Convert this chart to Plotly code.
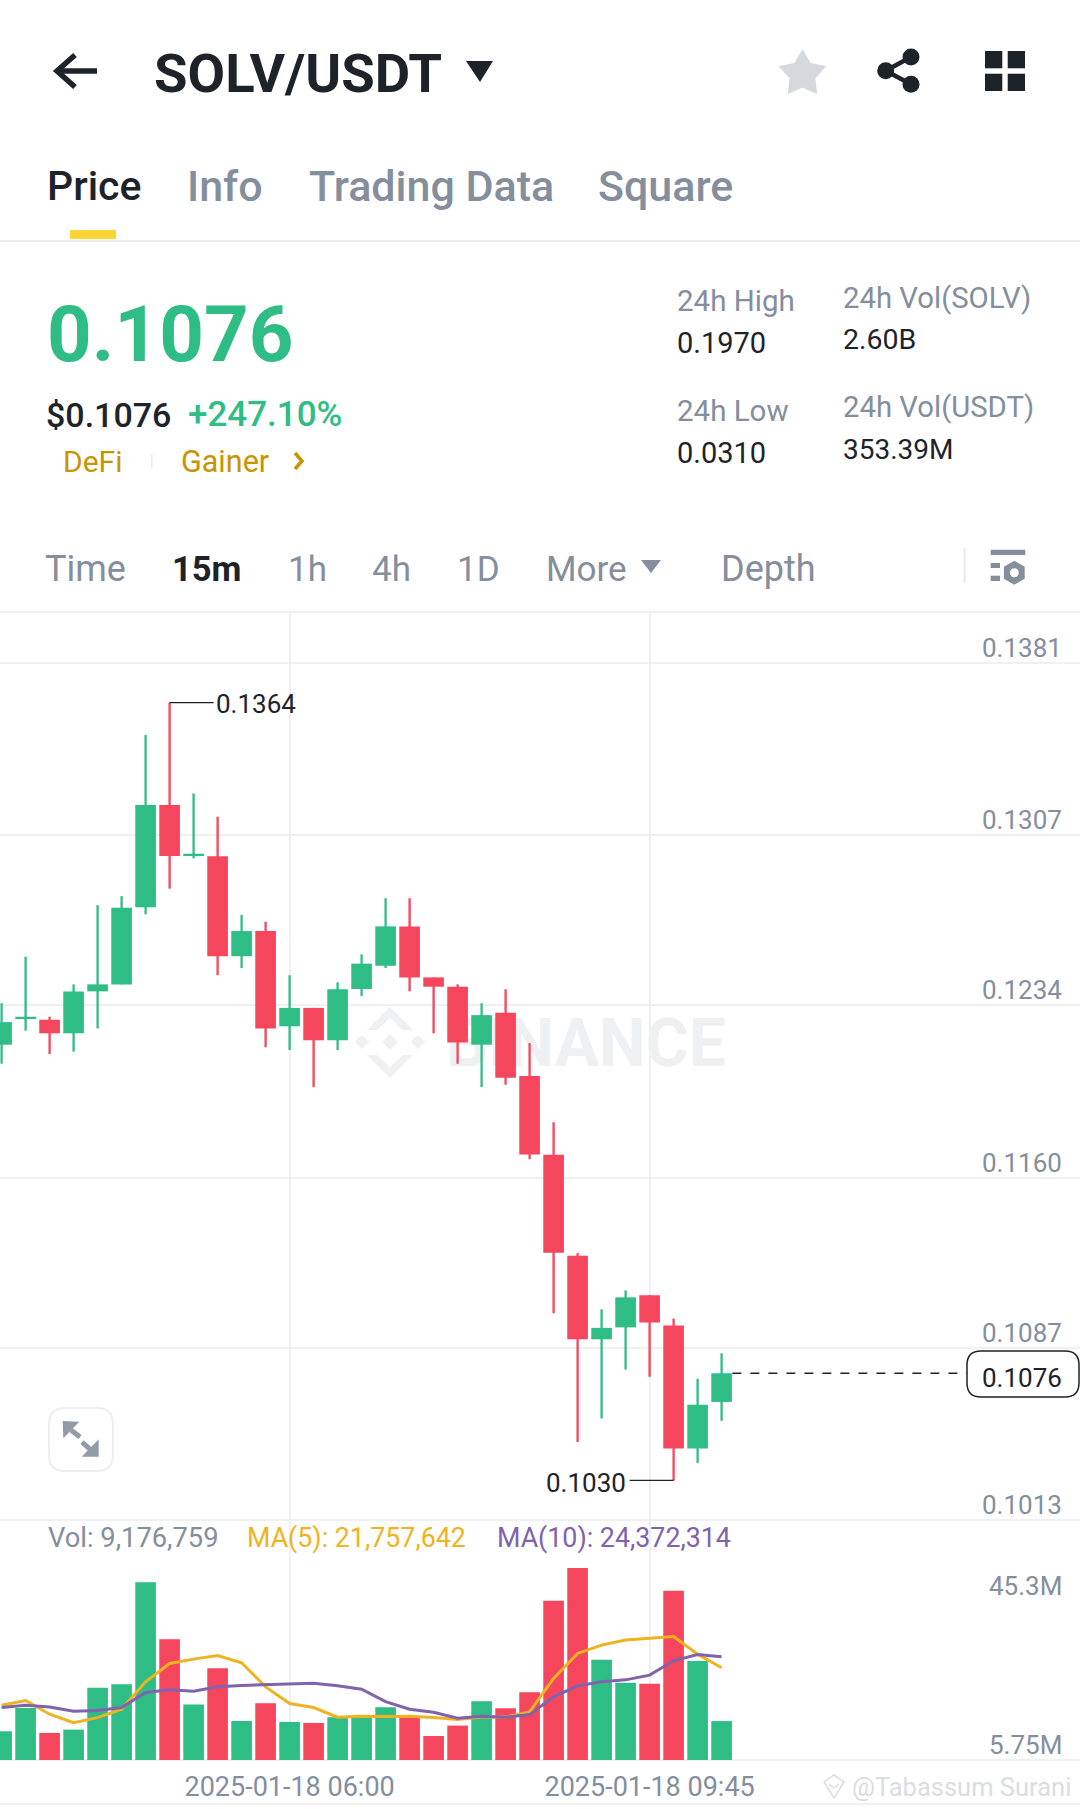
#!/usr/bin/env python3
import math

import pandas as pd
import plotly.graph_objects as go

W, H = 1080, 1809
GREEN, RED = "#2EBD85", "#F6465D"
DARK, GREY = "#1E2329", "#848E9C"
GOLD = "#C99400"
GRID = "#EEF0F2"
FONT = "Roboto"

# Candles, 15m interval, first one partly off the left edge
candle_start = "2025-01-18 03:00"
opens = [0.12171, 0.12281, 0.12278, 0.12220, 0.12400, 0.12430, 0.12761, 0.13200, 0.12981, 0.12980, 0.12551,
         0.12659, 0.12250, 0.12329, 0.12190, 0.12410, 0.12510, 0.12679, 0.12460, 0.12420, 0.12171, 0.12308,
         0.12037, 0.11698, 0.11265, 0.10906, 0.10957, 0.11095, 0.10965, 0.10437, 0.10637]
highs = [0.12349, 0.12549, 0.12291, 0.12430, 0.12770, 0.12809, 0.13501, 0.13640, 0.13250, 0.13150, 0.12729,
         0.12699, 0.12469, 0.12329, 0.12439, 0.12559, 0.12800, 0.12800, 0.12460, 0.12430, 0.12349, 0.12409,
         0.12178, 0.11838, 0.11276, 0.11035, 0.11116, 0.11095, 0.10995, 0.10736, 0.10846]
lows = [0.12089, 0.12231, 0.12131, 0.12141, 0.12241, 0.12430, 0.12731, 0.12841, 0.12971, 0.12470, 0.12500,
        0.12160, 0.12148, 0.11989, 0.12148, 0.12380, 0.12500, 0.12400, 0.12220, 0.12089, 0.11989, 0.11999,
        0.11679, 0.11018, 0.10465, 0.10566, 0.10776, 0.10745, 0.10300, 0.10375, 0.10556]
closes = [0.12268, 0.12291, 0.12220, 0.12399, 0.12430, 0.12759, 0.13200, 0.12981, 0.12991, 0.12551, 0.12659,
          0.12241, 0.12329, 0.12190, 0.12409, 0.12519, 0.12679, 0.12460, 0.12420, 0.12180, 0.12298, 0.12029,
          0.11700, 0.11278, 0.10906, 0.10955, 0.11086, 0.10978, 0.10437, 0.10625, 0.10760]

# Volume and moving averages, in millions
volumes = [6.77, 12.29, 6.38, 7.17, 17.01, 17.88, 41.9, 28.5, 13.08, 21.66, 9.2, 13.39, 8.98, 8.74, 10.08, 10.32,
           12.44, 10.16, 5.67, 8.11, 13.86, 12.21, 15.99, 37.57, 45.3, 23.63, 18.2, 17.96, 39.93, 23.32, 9.177]
ma5 = [12.92, 14.02, 10.79, 8.82, 10.0, 11.97, 18.43, 22.76, 23.79, 24.65, 22.92, 17.25, 13.31, 12.37, 10.08, 10.32,
       10.24, 10.32, 10.0, 9.53, 10.16, 10.16, 11.34, 19.22, 25.13, 27.1, 28.28, 28.67, 29.14, 24.97, 21.758]
ma10 = [12.37, 12.92, 12.52, 11.5, 11.66, 12.37, 15.91, 16.54, 16.23, 17.25, 17.57, 17.72, 17.96, 18.12, 17.49, 16.7,
        13.78, 11.97, 11.26, 9.85, 10.32, 10.08, 10.71, 14.89, 17.49, 18.43, 18.9, 20.01, 23.39, 24.89, 24.372]

price_ticks = [0.1381, 0.1307, 0.1234, 0.1160, 0.1087, 0.1013]
price_labels = ["0.1381", "0.1307", "0.1234", "0.1160", "0.1087", "0.1013"]
time_ticks = ["2025-01-18 06:00", "2025-01-18 09:45"]
header_tabs = [("Info", 185), ("Trading Data", 307), ("Square", 596)]
interval_tabs = [("Time", 43, 36, False), ("15m", 170, 34.5, True), ("1h", 286, 35, False), ("4h", 370, 35, False),
                 ("1D", 455, 35, False), ("More", 544, 35, False), ("Depth", 719, 36, False)]

times = pd.date_range(candle_start, periods=len(opens), freq="15min")
step = pd.Timedelta(minutes=15)
bar_colors = [GREEN if c >= o else RED for o, c in zip(opens, closes)]
body_low = [min(o, c) for o, c in zip(opens, closes)]
body_size = [abs(o - c) for o, c in zip(opens, closes)]
wick_size = [h - l for h, l in zip(highs, lows)]


def X(p):
    return p / W


def Y(p):
    return 1 - p / H


def x_at(px):
    # pixel position -> time on the chart axis, 06:00 sits at 289.6 and one candle is 24px
    return pd.Timestamp("2025-01-18 06:00") + (px - 289.6) / 24 * step


fig = go.Figure()
shapes = []
notes = []


def text(x, y, s, size, color, anchor="left", weight=400):
    notes.append(dict(x=X(x), y=Y(y), xref="paper", yref="paper", text=s, showarrow=False, xanchor=anchor,
                      yanchor="middle", font=dict(family=FONT, size=size, color=color, weight=weight)))


def rect(x0, y0, x1, y1, color, layer="above"):
    shapes.append(dict(type="rect", xref="paper", yref="paper", x0=X(x0), x1=X(x1), y0=Y(y0), y1=Y(y1),
                       fillcolor=color, line_width=0, layer=layer))


def poly(points, color=None, line=None, width=0, closed=True, layer="above"):
    d = "M" + " L".join(f"{X(a):.5f},{Y(b):.5f}" for a, b in points) + (" Z" if closed else "")
    shapes.append(dict(type="path", xref="paper", yref="paper", path=d, fillcolor=color if color else "rgba(0,0,0,0)",
                       line=dict(color=line if line else "rgba(0,0,0,0)", width=width), layer=layer))


def round_box(x0, y0, x1, y1, r, fill, line, width):
    def p(a, b):
        return f"{X(a):.5f},{Y(b):.5f}"
    d = (f"M{p(x0 + r, y0)} L{p(x1 - r, y0)} Q{p(x1, y0)} {p(x1, y0 + r)} L{p(x1, y1 - r)} Q{p(x1, y1)} {p(x1 - r, y1)} "
         f"L{p(x0 + r, y1)} Q{p(x0, y1)} {p(x0, y1 - r)} L{p(x0, y0 + r)} Q{p(x0, y0)} {p(x0 + r, y0)} Z")
    shapes.append(dict(type="path", xref="paper", yref="paper", path=d, fillcolor=fill,
                       line=dict(color=line, width=width)))


def circle(cx, cy, r, color, layer="above"):
    shapes.append(dict(type="circle", xref="paper", yref="paper", x0=X(cx - r), x1=X(cx + r), y0=Y(cy - r), y1=Y(cy + r),
                       fillcolor=color, line_width=0, layer=layer))


def diamond(cx, cy, r, color, layer="above"):
    poly([(cx, cy - r), (cx + r, cy), (cx, cy + r), (cx - r, cy)], color=color, layer=layer)


# Price panel: plotly caps the candlestick body width, so wicks and bodies are two overlaid bar traces
fig.add_trace(go.Bar(x=times, y=wick_size, base=lows, width=0.096 * 900000, marker=dict(color=bar_colors, line_width=0),
                     name="Wick", xaxis="x", yaxis="y"))
fig.add_trace(go.Bar(x=times, y=body_size, base=body_low, width=0.86 * 900000, marker=dict(color=bar_colors, line_width=0),
                     name="Body", xaxis="x", yaxis="y"))

# Volume panel
fig.add_trace(go.Bar(x=times, y=volumes, width=0.86 * 900000, marker=dict(color=bar_colors, line_width=0), name="Vol",
                     xaxis="x", yaxis="y2"))
fig.add_trace(go.Scatter(x=times, y=ma5, mode="lines", line=dict(color="#EFB321", width=3), name="MA(5)",
                         xaxis="x", yaxis="y2"))
fig.add_trace(go.Scatter(x=times, y=ma10, mode="lines", line=dict(color="#8062AD", width=3), name="MA(10)",
                         xaxis="x", yaxis="y2"))

# Price scale labels sit just above their grid lines
for tick, label in zip(price_ticks, price_labels):
    notes.append(dict(x=X(1064), y=tick, xref="paper", yref="y", text=label, showarrow=False, xanchor="right",
                      yanchor="middle", yshift=15, font=dict(family=FONT, size=26, color=GREY)))

for value, label, shift in [(45.3, "45.3M", -18), (5.75, "5.75M", -9)]:
    notes.append(dict(x=X(1064), y=value, xref="paper", yref="y2", text=label, showarrow=False, xanchor="right",
                      yanchor="middle", yshift=shift, font=dict(family=FONT, size=26, color=GREY)))

# High / low markers and last price
for i, value, label, side, shift in [(7, 0.1364, "0.1364", 1, -1), (28, 0.1030, "0.1030", -1, -3)]:
    end = times[i] + side * 1.83 * step
    shapes.append(dict(type="line", xref="x", yref="y", x0=times[i], x1=end, y0=value, y1=value,
                       line=dict(color=DARK, width=1.4)))
    notes.append(dict(x=end if side > 0 else end + side * 0.06 * step, y=value, xref="x", yref="y", text=label,
                      showarrow=False, xanchor="left" if side > 0 else "right", yanchor="middle", yshift=shift,
                      font=dict(family=FONT, size=26, color=DARK)))

shapes.append(dict(type="line", xref="x", yref="y", x0=times[-1] + 0.45 * step, x1=x_at(967), y0=closes[-1],
                   y1=closes[-1], line=dict(color=DARK, width=1.4, dash="dash")))

round_box(967, 1351, 1079, 1397, 14, "white", DARK, 1.5)
text(1064, 1378, "0.1076", 26, DARK, "right")

# Volume legend
text(46, 1538, "Vol: 9,176,759", 27.3, GREY)
text(245, 1538, "MA(5): 21,757,642", 26.8, "#EFB321")
text(495, 1538, "MA(10): 24,372,314", 26.8, "#8062AD")

# Top bar
text(152, 73, "SOLV/USDT", 54.5, DARK, weight=700)
poly([(97, 71), (57, 71)], line=DARK, width=5.5, closed=False)
poly([(75, 55), (57, 71), (75, 87)], line=DARK, width=5.5, closed=False)
poly([(466, 61), (493, 61), (480, 82)], color=DARK)
star = []
for k in range(10):
    rad = 22 if k % 2 == 0 else 12
    ang = -math.pi / 2 + k * math.pi / 5
    star.append((802.5 + rad * math.cos(ang), 74 + rad * math.sin(ang)))
poly(star, color="#D5D9DE", line="#D5D9DE", width=3)
poly([(911, 57), (885.7, 70.7), (911, 84.3)], line=DARK, width=4.5, closed=False)
for cx, cy in [(911, 57), (885.7, 70.7), (911, 84.3)]:
    circle(cx, cy, 8.5, DARK)
for x0, y0 in [(985, 51), (1007.7, 51), (985, 73.7), (1007.7, 73.7)]:
    rect(x0, y0, x0 + 17.3, y0 + 17.3, DARK)

# Page tabs
text(45, 186, "Price", 41, DARK, weight=500)
for label, x in header_tabs:
    text(x, 186, label, 43, GREY, weight=500)
rect(70, 230, 116, 239, "#FCD535")
rect(0, 240, W, 242, "#E9EBEE")

# Ticker summary
text(45, 335, "0.1076", 78, GREEN, weight=700)
text(44, 415, "$0.1076", 34, DARK, weight=500)
text(186, 415, "+247.10%", 35, GREEN, weight=500)
text(61, 461, "DeFi", 30, GOLD)
rect(151, 454, 152.5, 468, "#EAECEF")
text(179, 461, "Gainer", 30.5, GOLD)
poly([(295, 453), (302, 461), (295, 469)], line=GOLD, width=3.5, closed=False)

text(675, 301, "24h High", 29.5, GREY)
text(675, 343, "0.1970", 29, DARK)
text(675, 411, "24h Low", 29.5, GREY)
text(675, 453, "0.0310", 29, DARK)
text(841, 298, "24h Vol(SOLV)", 29.3, GREY)
text(841, 339, "2.60B", 28.5, DARK)
text(841, 407, "24h Vol(USDT)", 29.3, GREY)
text(841, 450, "353.39M", 28, DARK)

# Interval tabs
for label, x, size, active in interval_tabs:
    text(x, 569, label, size, DARK if active else GREY, weight=700 if active else 400)
poly([(641, 560), (661, 560), (651, 573)], color=GREY)
rect(963.3, 548, 965.7, 583, "#EAECEF")
rect(990.7, 549.7, 1025.3, 555, GREY)
rect(990.7, 563, 1000, 568, GREY)
rect(990.7, 575.7, 1000, 581, GREY)
hexagon = [(1014.3 + 12 * math.cos(math.pi / 6 + k * math.pi / 3), 572.7 + 12 * math.sin(math.pi / 6 + k * math.pi / 3))
           for k in range(6)]
poly(hexagon, color=GREY)
circle(1014.3, 572.7, 4.5, "white")

# Panel frame lines
rect(0, 611, W, 613, GRID, layer="below")
rect(0, 1519, W, 1521, GRID, layer="below")
rect(0, 1759, W, 1761, GRID, layer="below")
rect(0, 1803, W, 1805, GRID, layer="below")

# Expand button
round_box(49, 1408, 113, 1471, 16, "white", "#ECEEF0", 2)
ARROW = "#939BA6"
poly([(62.7, 1421), (79.3, 1421.7), (63.3, 1438.3)], color=ARROW)
poly([(71, 1430), (80, 1437)], line=ARROW, width=5, closed=False)
poly([(98.7, 1439.3), (98.7, 1456.7), (81.7, 1456.7)], color=ARROW)
poly([(82, 1442), (90, 1449)], line=ARROW, width=5, closed=False)

# BINANCE watermark under the candles
MARK = "#EEF0F1"
diamond(390, 1042, 8, MARK, layer="below")
diamond(362, 1042, 7, MARK, layer="below")
diamond(418, 1042, 7, MARK, layer="below")
poly([(390, 1007), (413, 1030), (403, 1030), (390, 1018), (377, 1030), (367, 1030)], color=MARK, layer="below")
poly([(390, 1078), (413, 1055), (403, 1055), (390, 1067), (377, 1055), (367, 1055)], color=MARK, layer="below")
shapes.append(dict(type="rect", xref="paper", yref="paper", x0=X(441), x1=X(731), y0=Y(1016), y1=Y(1060),
                   fillcolor="rgba(0,0,0,0)", line_width=0, layer="below",
                   label=dict(text="<b>BINANCE</b>", textposition="middle center",
                              font=dict(family=FONT, size=66, color=MARK))))

# Author stamp bottom right
text(850, 1787, "@Tabassum Surani", 25.5, "#DADDE1")
poly([(824, 1782), (834, 1775), (844, 1782), (834, 1798), (824, 1782)], line="#DADDE1", width=1.5, closed=False)
poly([(829, 1784), (834, 1788), (839, 1784)], line="#DADDE1", width=1.5, closed=False)

fig.update_layout(
    width=W, height=H, margin=dict(l=0, r=0, t=0, b=0), paper_bgcolor="white", plot_bgcolor="white",
    showlegend=False, hovermode=False, barmode="overlay",
    font=dict(family=FONT, color=GREY), shapes=shapes, annotations=notes,
    xaxis=dict(domain=[0, 1], type="date", range=[x_at(0), x_at(W)], anchor="y2",
               tickmode="array", tickvals=time_ticks, ticktext=time_ticks, ticks="outside", ticklen=3,
               tickcolor="rgba(0,0,0,0)", tickfont=dict(family=FONT, size=27, color=GREY),
               showgrid=True, gridcolor=GRID, gridwidth=1.5, zeroline=False, showline=False),
    yaxis=dict(domain=[Y(1520), Y(612)], range=[0.1013, 0.14029], tickmode="array", tickvals=price_ticks,
               showticklabels=False, showgrid=True, gridcolor=GRID, gridwidth=1.5, zeroline=False, ticks=""),
    yaxis2=dict(domain=[Y(1760), Y(1520)], range=[0, 56.6], showticklabels=False, showgrid=False, zeroline=False,
                ticks=""),
)

fig.write_html("out.html", config=dict(displayModeBar=False),
               post_script="document.body.style.margin='0';document.documentElement.style.overflow='hidden';")
